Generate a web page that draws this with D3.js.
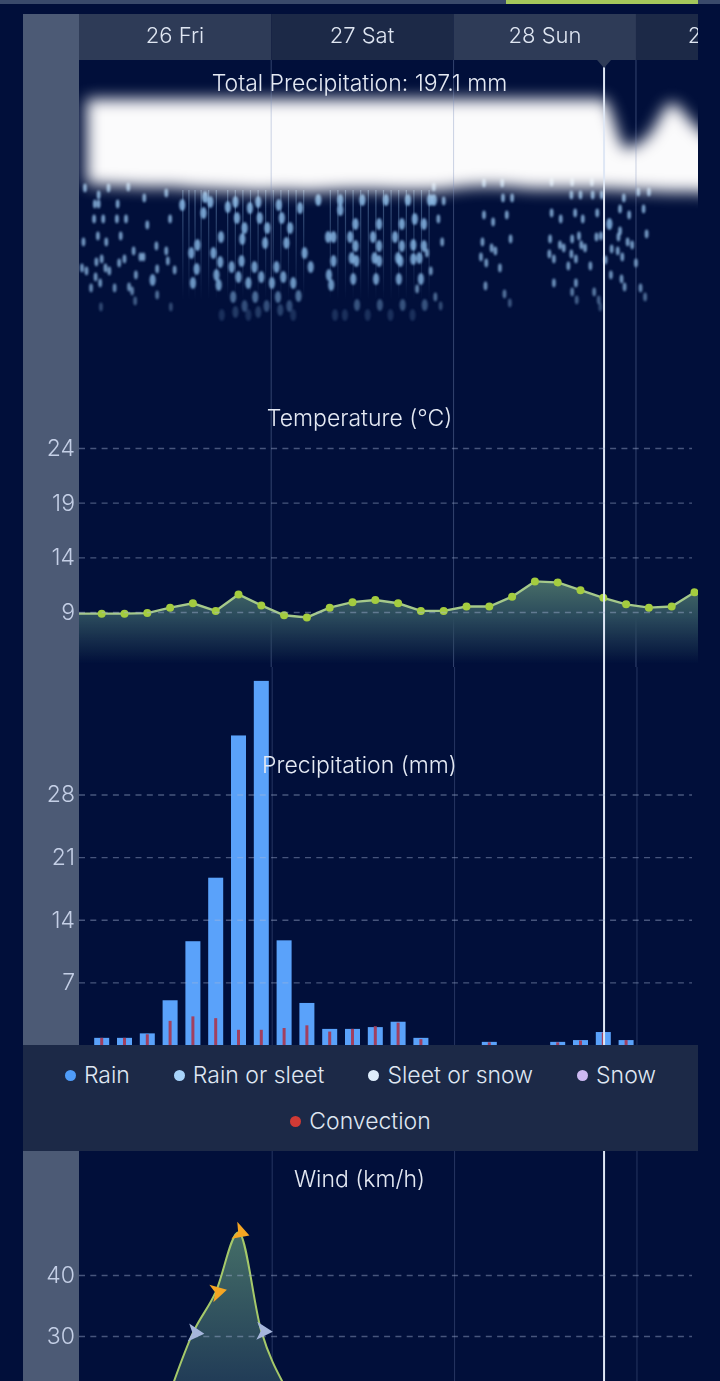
<!DOCTYPE html>
<html>
<head>
<meta charset="utf-8">
<script src="https://cdn.jsdelivr.net/npm/d3@7"></script>
<style>
  html, body { margin: 0; background: #010f3a; overflow: hidden; }
  #wrap { position: relative; width: 720px; height: 1381px; font-family: Inter, "Noto Sans", sans-serif; font-weight: 300; }
  svg { position: absolute; left: 0; top: 0; }
  svg text { font-family: Inter, "Noto Sans", sans-serif; font-weight: 300; }
  #legend { position: absolute; left: 23px; top: 1045px; width: 675px; height: 106px; box-sizing: border-box; padding-top: 7px;
    background: #1c2947; display: flex; flex-wrap: wrap; justify-content: center; align-content: flex-start; column-gap: 44px; color: #dfe6f2; font-size: 23px; }
  .item { display: flex; align-items: center; height: 46px; }
  .dot { width: 11px; height: 11px; border-radius: 50%; margin-right: 8px; }
</style>
</head>
<body>
<div id="wrap"></div>
<script>
// days, hours are counted from the first bar
const dayLabels = ['26 Fri', '27 Sat', '28 Sun', '29 Mon'];
const dayStarts = [22.3, 46.3, 70.3];
const cursorHour = 66.1;

const seriesHours = [-3, 0, 3, 6, 9, 12, 15, 18, 21, 24, 27, 30, 33, 36, 39, 42, 45, 48, 51, 54, 57, 60, 63, 66, 69, 72, 75, 78, 81];

const temperature = [8.85, 8.85, 8.85, 8.9, 9.4, 9.8, 9.1, 10.6, 9.6, 8.7, 8.5, 9.4, 9.9, 10.1, 9.8, 9.1, 9.1, 9.5, 9.5, 10.4, 11.8, 11.7, 11, 10.3, 9.7, 9.4, 9.5, 10.8, 11.2];
const tempTicks = [9, 14, 19, 24];

const barHours = seriesHours.slice(1);
const rain = [0.8, 0.8, 1.3, 5, 11.6, 18.7, 34.6, 40.7, 11.7, 4.7, 1.8, 1.8, 2, 2.6, 0.8, 0, 0, 0.35, 0, 0, 0.35, 0.55, 1.45, 0.55, 0, 0, 0, 0];
const convection = [0.8, 0.8, 1.2, 2.7, 3.2, 3, 1.7, 1.7, 1.9, 2.2, 1.5, 1.8, 2.1, 2.5, 0.65, 0, 0, 0.3, 0, 0, 0.3, 0.5, 1.4, 0.55, 0, 0, 0, 0];
const precipTicks = [7, 14, 21, 28];

const windHours = [9, 12, 15, 18, 21, 24];
const wind = [20.8, 30.5, 37.2, 47, 30.8, 22];
const windDir = [-5, 5, -13, 19, 3, 0];
const windStrong = [false, false, true, true, false, false];
const windTicks = [30, 40];

const legendNames = ['Rain', 'Rain or sleet', 'Sleet or snow', 'Snow', 'Convection'];
const legendColors = ['#4f9cf9', '#a8d4fb', '#e0eefc', '#cdb9f2', '#d03a35'];

// cloud band, altitude above the rain strip
const cloudHours = [-2, 0, 3, 6, 9, 12, 15, 18, 21, 24, 27, 30, 33, 36, 39, 42, 45, 48, 51, 54, 57, 60, 63, 66, 69, 72, 75, 78, 81, 84];
const cloudTop = [91, 91, 91, 91, 91, 91, 91, 91, 91, 91, 91, 91, 91, 91, 91, 91, 91, 91, 91, 91, 91, 91, 91, 91, 42, 55, 87, 65, 50, 50];
const cloudBase = [6, 5, 4, 3, 3, 1, 0, -1, -2, -1, -2, -1, 0, 0, -1, -1, 0, 3, 4, 3, 1, 1, 1, 1, 0, -1, -2, -2, -4, -4];

// [hour, fall]
const lightDrops = [[-2.2,8],[.9,8],[3.5,7],[8.5,13],[5.6,18],[-.4,15],[-.9,24],[-.4,24],[2.1,24],[-1,39],[.2,39],[2,39],[3.2,39],[6,45],[9,39],
  [-.5,56],[2.5,56],[-2.4,62],[.6,62],[7.2,66],[4.2,71],[8.5,71],[-.7,82],[0,79],[3,79],[2.3,83],[5.1,77],[5.5,77],[8.7,81],[-2.6,88],[-2,91],[.5,88],[1,91],[7.3,89],[9.6,90],
  [-.8,97],[-.2,103],[4.5,95],[-1.4,108],[1.7,108],[3.6,107],[4,111],[7.3,115],[4.4,121],[-.1,127],[9.1,127],
  [50.3,3],[52.7,3],[59.2,2],[61.9,2],[64.5,2],[70.6,12],[72,12],[52.8,18],[54,18],[61.8,15],[63,15],[64.6,15],[65.8,15],[68.7,18],[50.3,35],[51.5,42],[53.3,35],[59.2,33],[60.4,39],[62.3,33],[63.3,39],[65.2,33],[68.2,29],[69.4,35],[71.3,29],
  [68.2,51],[68,57],[65.1,57],[65.7,56],[62.8,56],[61.9,59],[59,59],[53.8,59],[50.1,62],[71.7,54],[69.2,62],[69.8,65],[60.3,65],[60.8,68],[63.1,65],[63.6,68],[51.3,68],[51.8,71],[67.1,69],[67.9,71],[68.5,77],[58.9,74],[59.5,79],[61.8,74],[62.4,79],[49.9,77],[50.6,83],[66.3,80],[70.3,83],[52.4,88],[61.4,86],[64.3,86],
  [67,95],[68.4,99],[68.8,107],[50.5,106],[59.5,103],[62.4,103],[70.9,108],[61.9,112],[64.8,112],[53,114],[71.5,117],[62.5,120],[65.4,120],[53.7,123],[65.6,127],
  [43.7,7],[45,21],[44.3,39],[44.8,62],[42.8,73],[43.3,91],[41.5,109],[43.9,117],[44.6,126]];

const heavyDrops = [[10.6,25],[13.6,17],[13.4,33],[12.6,65],[11.8,73],[12.5,89],[6.7,100],[12,103],
  [16.6,27],[17.6,22],[19.5,28],[20.6,22],[23.3,25],[26.1,28],[28.5,20],[17.8,38],[20.8,38],[23.7,38],[14.3,22],[18.8,48],[21.8,48],[24.8,48],[15.7,57],[18.5,59],[21.5,63],[24.3,63],[29.8,57],[30.5,57],
  [14.7,73],[15.6,82],[18.4,81],[26.7,73],[30.5,81],[17.1,87],[20.1,87],[23,87],[27.5,87],[15.1,95],[18,97],[21,97],[23.9,97],[29.9,95],[15.4,105],[19.3,103],[22.4,103],[25.2,103],[30.2,105],
  [17.3,117],[20.2,117],[23.2,117],[25.9,116],[18.8,126],[21.7,126],[24.7,126],[15.8,135],[17.6,132],[20.6,132],[23.5,130],[19.3,135],[25.2,135],
  [31.4,20],[34.3,20],[37.4,20],[40.3,20],[43.2,20],[43.7,20],[31.4,30],[33.4,44],[36.5,44],[39.5,44],[42.4,44],[41.2,39],[32.7,57],[35.7,57],[38.6,57],[33.4,66],[36.5,66],[39.5,66],[42.4,66],[41,65],
  [32.9,78],[33.5,81],[35.9,78],[36.5,81],[39,78],[39.3,81],[41,79],[41.8,78],[33.1,99],[36.1,99],[39.1,99],[42,99],[33.6,125],[36.6,125],[39.6,125],[42.5,125],[30.7,135],[32,135],[35,135],[38,135],[40.9,135],[66.8,44]];

const streakHours = [10.6, 11.4, 12.2, 13, 14, 15, 16.5, 17.5, 18.5, 19.5, 20.5, 21.5, 22.5, 23.5, 24.5, 25.5, 26.5, 30, 31, 32, 33, 34, 35, 36, 37, 38, 39, 40, 41, 42, 43];

const width = 720;
const height = 1381;
const left = 79;
const right = 698;

const x = d3.scaleLinear().domain([0, 78]).range([101.7, 694.5]);
const yTemp = d3.scaleLinear().domain([9, 24]).range([612, 448]);
const yPrecip = d3.scaleLinear().domain([0, 28]).range([1045, 794.5]);
const yWind = d3.scaleLinear().domain([30, 40]).range([1336, 1275]);
const yCloud = d3.scaleLinear().domain([0, 100]).range([190, 90]);
const yFall = d3.scaleLinear().domain([0, 140]).range([180, 320]);
const dropAlpha = d3.scaleLinear().domain([0, 105, 135]).range([0.9, 0.8, 0.2]).clamp(true);

const wrap = d3.select('#wrap');
const svg = wrap.append('svg').attr('width', width).attr('height', height);
const defs = svg.append('defs');

defs.append('clipPath').attr('id', 'plot').append('rect')
  .attr('x', left).attr('y', 14).attr('width', right - left).attr('height', height - 14);

defs.append('filter').attr('id', 'cloudBlur').attr('filterUnits', 'userSpaceOnUse')
  .attr('x', 0).attr('y', 40).attr('width', width + 60).attr('height', 220)
  .append('feGaussianBlur').attr('stdDeviation', 7.5);
defs.append('filter').attr('id', 'dropBlur').attr('filterUnits', 'userSpaceOnUse')
  .attr('x', 0).attr('y', 170).attr('width', width).attr('height', 170)
  .append('feGaussianBlur').attr('stdDeviation', 0.8);

function gradient(id, y1, y2, stops) {
  const g = defs.append('linearGradient').attr('id', id).attr('gradientUnits', 'userSpaceOnUse')
    .attr('x1', 0).attr('x2', 0).attr('y1', y1).attr('y2', y2);
  stops.forEach(s => g.append('stop').attr('offset', s[0]).attr('stop-color', s[1]).attr('stop-opacity', s[2]));
}
gradient('tempFill', 578, 664, [[0, '#4a7068', 1], [0.45, '#2a4a5c', 1], [1, '#2a4a5c', 0]]);
gradient('windFill', 1225, 1400, [[0, '#467068', 1], [1, '#1d3655', 1]]);
gradient('streak', 190, 300, [[0, '#8fbde8', 0.42], [1, '#8fbde8', 0]]);

// frame
svg.append('rect').attr('x', 0).attr('y', 0).attr('width', width).attr('height', 4).attr('fill', '#3a4a6b');
svg.append('rect').attr('x', 506).attr('y', 0).attr('width', right - 506).attr('height', 4).attr('fill', '#a4c75b');
svg.append('rect').attr('x', 23).attr('y', 14).attr('width', left - 23).attr('height', height - 14).attr('fill', '#4c5a75');

// day header
const dayEdges = [left].concat(dayStarts.map(x), [right]);
svg.selectAll('.cell').data(dayLabels).enter().append('rect')
  .attr('class', 'cell')
  .attr('x', (d, i) => dayEdges[i])
  .attr('y', 14)
  .attr('width', (d, i) => dayEdges[i + 1] - dayEdges[i])
  .attr('height', 46)
  .attr('fill', (d, i) => i % 2 ? '#1c2947' : '#2e3b57');

const plot = svg.append('g').attr('clip-path', 'url(#plot)');

// cloud strip
const cloudData = cloudHours.map((h, i) => ({ h, top: cloudTop[i], base: cloudBase[i] }));
plot.selectAll('.streak').data(streakHours).enter().append('rect')
  .attr('class', 'streak')
  .attr('x', d => x(d))
  .attr('y', yCloud(0))
  .attr('width', 1.2)
  .attr('height', 110)
  .attr('fill', 'url(#streak)');

const drops = plot.append('g').attr('filter', 'url(#dropBlur)');
drops.selectAll('.light').data(lightDrops).enter().append('ellipse')
  .attr('class', 'light')
  .attr('cx', d => x(d[0]))
  .attr('cy', d => yFall(d[1]))
  .attr('rx', 1.9)
  .attr('ry', 4.4)
  .attr('fill', '#8ab4de')
  .attr('opacity', d => dropAlpha(d[1]));
drops.selectAll('.heavy').data(heavyDrops).enter().append('ellipse')
  .attr('class', 'heavy')
  .attr('cx', d => x(d[0]))
  .attr('cy', d => yFall(d[1]))
  .attr('rx', 3.1)
  .attr('ry', 6)
  .attr('fill', '#86b6e4')
  .attr('opacity', d => dropAlpha(d[1]));

plot.append('path')
  .datum(cloudData)
  .attr('d', d3.area().x(d => x(d.h)).y0(d => yCloud(d.base)).y1(d => yCloud(d.top)).curve(d3.curveMonotoneX))
  .attr('fill', '#fbfbfc')
  .attr('filter', 'url(#cloudBlur)');

// day separators, the lower panels sit 1px to the right
plot.selectAll('.dayline').data(dayStarts).enter().append('line')
  .attr('class', 'dayline')
  .attr('x1', d => x(d)).attr('x2', d => x(d))
  .attr('y1', 60).attr('y2', 667)
  .attr('stroke', '#7f93bd').attr('stroke-opacity', 0.4);
plot.selectAll('.dayline2').data(dayStarts).enter().append('line')
  .attr('class', 'dayline2')
  .attr('x1', d => x(d) + 1).attr('x2', d => x(d) + 1)
  .attr('y1', 667).attr('y2', height)
  .attr('stroke', '#7f93bd').attr('stroke-opacity', 0.3);

function addAxis(scale, ticks) {
  const g = svg.append('g')
    .attr('transform', `translate(${left},0)`)
    .call(d3.axisLeft(scale).tickValues(ticks).tickSize(-(692 - left)).tickPadding(4));
  g.select('.domain').remove();
  g.selectAll('line').attr('stroke', '#a9b8d8').attr('stroke-opacity', 0.42).attr('stroke-width', 1.4).attr('stroke-dasharray', '6 5.3');
  g.selectAll('text').attr('fill', '#c4cfe6').style('font-size', '23px');
}

// temperature
const tempData = seriesHours.map((h, i) => ({ h, v: temperature[i] }));
plot.append('path').datum(tempData)
  .attr('d', d3.area().x(d => x(d.h)).y0(667).y1(d => yTemp(d.v)))
  .attr('fill', 'url(#tempFill)');
addAxis(yTemp, tempTicks);
plot.append('path').datum(tempData)
  .attr('d', d3.line().x(d => x(d.h)).y(d => yTemp(d.v)))
  .attr('fill', 'none').attr('stroke', '#a5c98a').attr('stroke-width', 2.4);
plot.selectAll('.temp').data(tempData.filter(d => d.h >= 0)).enter().append('circle')
  .attr('class', 'temp')
  .attr('cx', d => x(d.h))
  .attr('cy', d => yTemp(d.v))
  .attr('r', 4)
  .attr('fill', '#a4cc3f');

// precipitation
addAxis(yPrecip, precipTicks);
const barW = 15;
plot.selectAll('.rain').data(rain).enter().append('rect')
  .attr('class', 'rain')
  .attr('x', (d, i) => x(barHours[i]) - barW / 2)
  .attr('y', d => yPrecip(d))
  .attr('width', barW)
  .attr('height', d => yPrecip(0) - yPrecip(d))
  .attr('fill', '#5aa2fa');
plot.selectAll('.conv').data(convection).enter().append('rect')
  .attr('class', 'conv')
  .attr('x', (d, i) => x(barHours[i]) - 1.5)
  .attr('y', d => yPrecip(d))
  .attr('width', 3)
  .attr('height', d => yPrecip(0) - yPrecip(d))
  .attr('fill', '#a2405f');

// wind
const windData = windHours.map((h, i) => ({ h, v: wind[i], dir: windDir[i], strong: windStrong[i] }));
plot.append('path').datum(windData)
  .attr('d', d3.area().x(d => x(d.h)).y0(height + 20).y1(d => yWind(d.v)).curve(d3.curveMonotoneX))
  .attr('fill', 'url(#windFill)');
addAxis(yWind, windTicks);
plot.append('path').datum(windData)
  .attr('d', d3.line().x(d => x(d.h)).y(d => yWind(d.v)).curve(d3.curveMonotoneX))
  .attr('fill', 'none').attr('stroke', '#a5c96a').attr('stroke-width', 2);
plot.selectAll('.arrow').data(windData.filter(d => d.h < 24)).enter().append('path')
  .attr('class', 'arrow')
  .attr('d', 'M10,0 L-6,-9 L-2,0 L-6,9 Z')
  .attr('transform', d => `translate(${x(d.h) + 1.5},${yWind(d.v)}) rotate(${d.dir})`)
  .attr('fill', d => d.strong ? '#f5a623' : '#a6b6dc');

// cursor
plot.append('line')
  .attr('x1', x(cursorHour)).attr('x2', x(cursorHour))
  .attr('y1', 66).attr('y2', height)
  .attr('stroke', '#dfe7f5').attr('stroke-width', 2);
svg.append('path')
  .attr('d', d3.line()([[x(cursorHour) - 7, 60], [x(cursorHour) + 7, 60], [x(cursorHour), 68]]))
  .attr('fill', '#2e3b57');

// titles and header labels
const titles = [['Total Precipitation: 197.1 mm', 91], ['Temperature (°C)', 426], ['Precipitation (mm)', 773], ['Wind (km/h)', 1187]];
svg.selectAll('.title').data(titles).enter().append('text')
  .attr('class', 'title')
  .attr('x', 359.5)
  .attr('y', d => d[1])
  .attr('text-anchor', 'middle')
  .attr('fill', '#e4e9f3')
  .style('font-size', '23px')
  .text(d => d[0]);

const dayCentres = [175, 362, 545, 727];
plot.append('g').selectAll('text').data(dayLabels).enter().append('text')
  .attr('x', (d, i) => dayCentres[i])
  .attr('y', 43)
  .attr('text-anchor', 'middle')
  .attr('fill', '#dfe6f2')
  .style('font-size', '22px')
  .text(d => d);

// legend
const legend = wrap.append('div').attr('id', 'legend');
const items = legend.selectAll('.item').data(legendNames).enter().append('div').attr('class', 'item');
items.append('div').attr('class', 'dot').style('background', (d, i) => legendColors[i]);
items.append('span').text(d => d);
</script>
</body>
</html>
